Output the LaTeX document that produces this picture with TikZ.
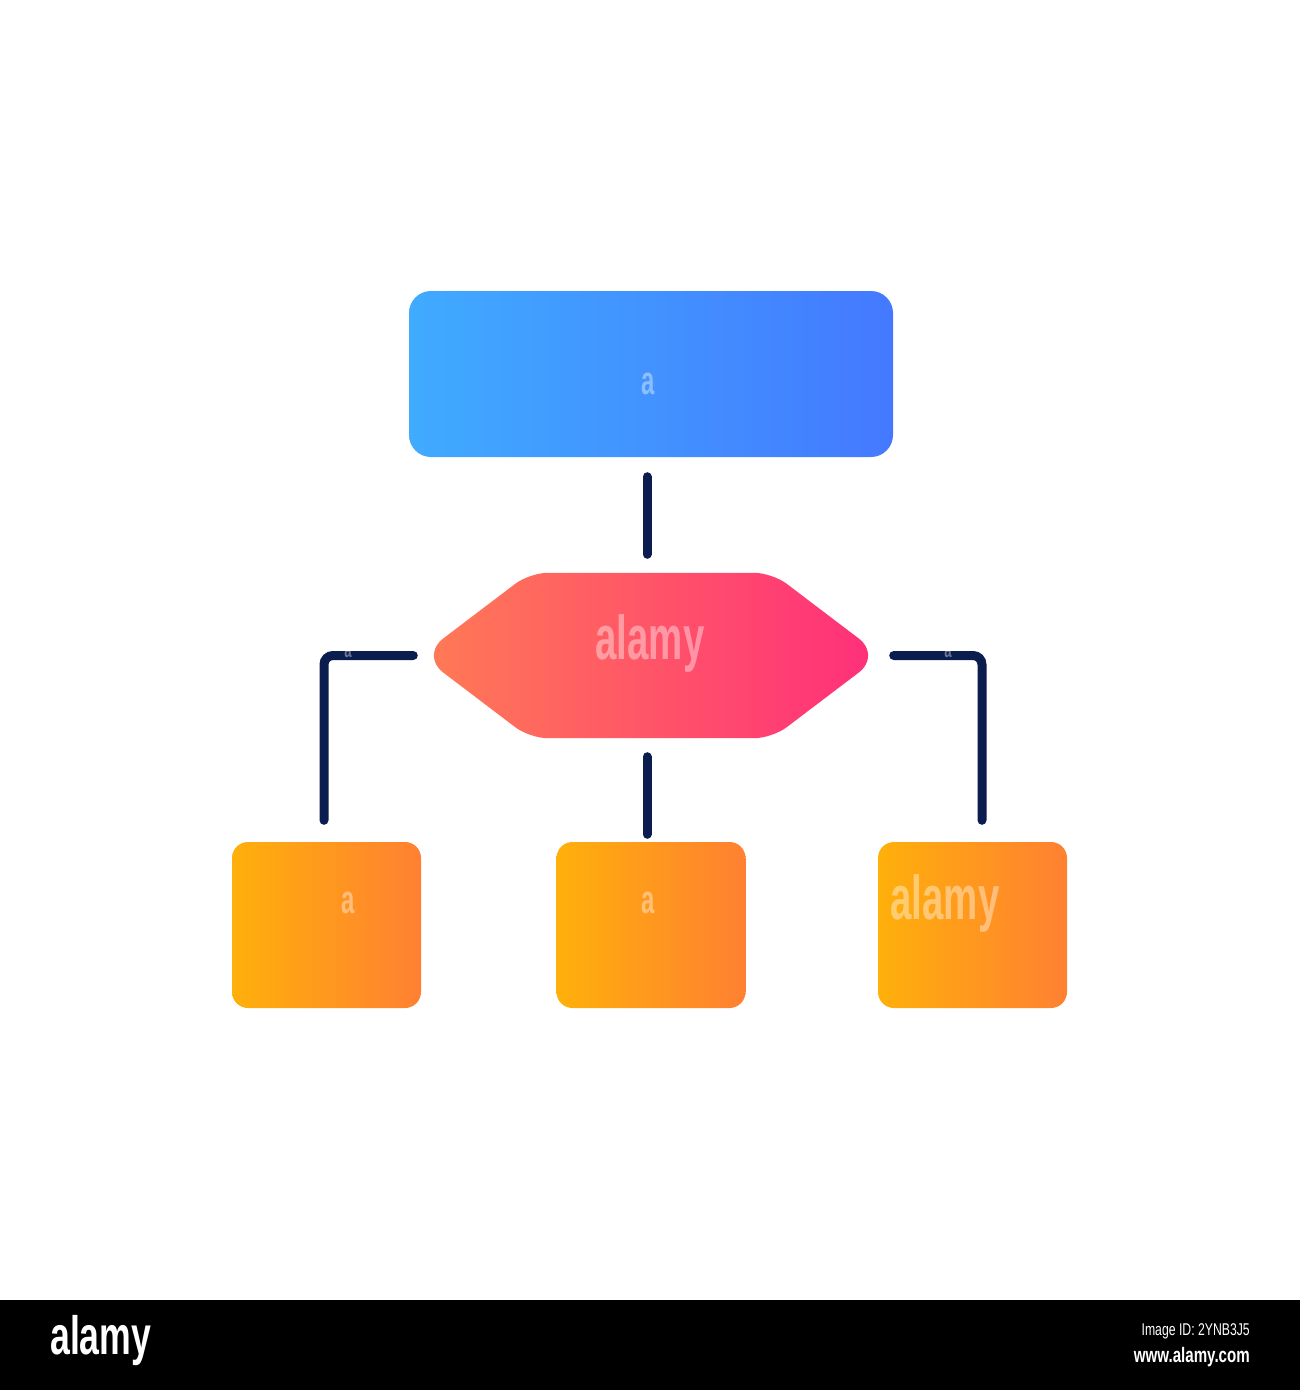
\documentclass[tikz,border=0pt]{standalone}
\usepackage{fontspec}
\setmainfont{Liberation Sans}
\usetikzlibrary{calc}
\definecolor{topL}{HTML}{40ABFF}
\definecolor{topR}{HTML}{4479FF}
\definecolor{hexL}{HTML}{FF7B55}
\definecolor{hexR}{HTML}{FF2E7B}
\definecolor{botL}{HTML}{FFB00B}
\definecolor{botR}{HTML}{FF8032}
\definecolor{navy}{HTML}{0B1C4E}
\tikzset{
  x=1pt, y=-1pt,
  topbox/.style={rectangle, rounded corners=22pt, minimum width=484pt, minimum height=166pt, inner sep=0pt, left color=topL, right color=topR},
  leafbox/.style={rectangle, rounded corners=16pt, minimum width=189pt, minimum height=166pt, inner sep=0pt, left color=botL, right color=botR},
  hexanchor/.style={rectangle, minimum width=440pt, minimum height=165pt, inner sep=0pt},
  conn/.style={draw=navy, line width=9pt, line cap=round, rounded corners=9pt},
  wm/.style={text=white, opacity=0.4, font=\bfseries, inner sep=0pt},
  bartext/.style={text=white, inner sep=0pt},
}
\newcommand{\narrow}[2]{\scalebox{#1}[1]{#2}}
\begin{document}
\begin{tikzpicture}
\useasboundingbox (0,0) rectangle (1300,1390);
\fill[white] (0,0) rectangle (1300,1300);
\fill[black] (0,1300) rectangle (1300,1390);

% nodes
\node[topbox] (top) at (651,374) {};
\node[hexanchor] (hex) at (651,655.5) {};
\path[left color=hexL, right color=hexR]
  (hex.north) [rounded corners=18pt] -- ($(hex.north east)+(-99,0)$)
  [rounded corners=28pt] -- ($(hex.east)+(10,0)$)
  [rounded corners=18pt] -- ($(hex.south east)+(-99,0)$) -- ($(hex.south west)+(99,0)$)
  [rounded corners=28pt] -- ($(hex.west)+(-10,0)$)
  [rounded corners=18pt] -- ($(hex.north west)+(99,0)$) [sharp corners] -- cycle;
\node[leafbox] (bl) at (326.5,925) {};
\node[leafbox] (bm) at (651,925) {};
\node[leafbox] (br) at (972.5,925) {};

% connectors
\draw[conn] ([xshift=-4pt,yshift=-19.5pt]top.south) -- ([xshift=-4pt,yshift=18.5pt]hex.north);
\draw[conn] ([xshift=-4pt,yshift=-18.5pt]hex.south) -- ([xshift=-4pt,yshift=7.5pt]bm.north);
\draw[conn] ([xshift=-17.5pt]hex.west) -| ([xshift=-2.5pt,yshift=21.5pt]bl.north);
\draw[conn] ([xshift=22.5pt]hex.east) -| ([xshift=9.5pt,yshift=21.5pt]br.north);

% watermark texts
\node[wm, font=\bfseries\fontsize{40}{40}\selectfont] (wa1) at (648,384) {\narrow{0.6}{a}};
\node[wm, font=\bfseries\fontsize{62}{62}\selectfont] (wa2) at (650,643) {\narrow{0.62}{alamy}};
\node[wm, font=\bfseries\fontsize{40}{40}\selectfont] (wa3) at (348,903) {\narrow{0.6}{a}};
\node[wm, font=\bfseries\fontsize{40}{40}\selectfont] (wa4) at (648,903) {\narrow{0.6}{a}};
\node[wm, font=\bfseries\fontsize{62}{62}\selectfont] (wa5) at (945,903) {\narrow{0.62}{alamy}};
\node[wm, font=\bfseries\fontsize{22}{22}\selectfont] (wa6) at (348,652) {\narrow{0.6}{a}};
\node[wm, font=\bfseries\fontsize{22}{22}\selectfont] (wa7) at (948,652) {\narrow{0.6}{a}};

% bottom bar texts
\node[bartext, font=\bfseries\fontsize{54}{54}\selectfont, anchor=west] (logo) at (50,1341) {\narrow{0.66}{alamy}};
\node[bartext, font=\fontsize{17}{17}\selectfont, anchor=east] (imgid) at (1250,1331) {\narrow{0.72}{Image ID: 2YNB3J5}};
\node[bartext, font=\bfseries\fontsize{21}{21}\selectfont, anchor=east] (url) at (1250,1357) {\narrow{0.72}{www.alamy.com}};
\end{tikzpicture}
\end{document}
